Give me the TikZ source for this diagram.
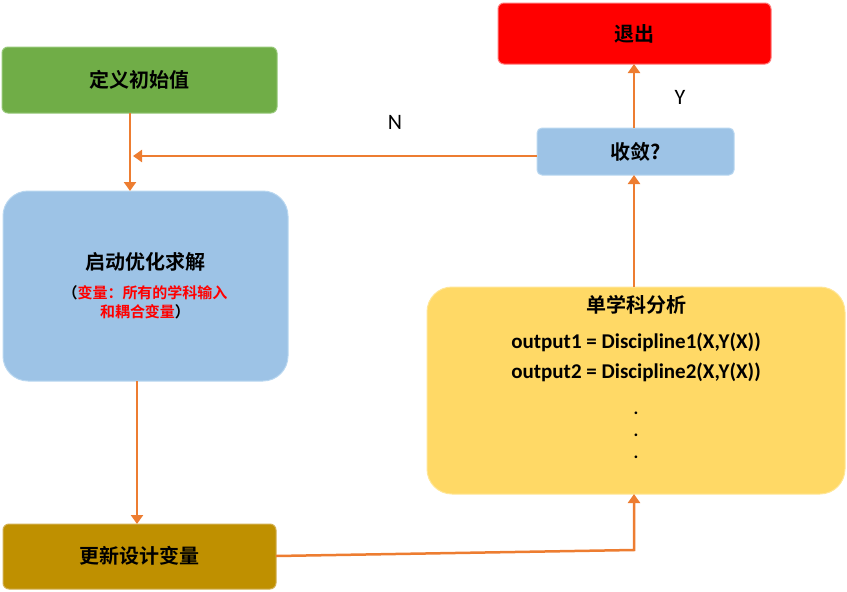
\documentclass[tikz,border=0pt]{standalone}
\usepackage{fontspec}
\setmainfont{Carlito}
\newfontfamily\cjk{Noto Sans CJK SC}[BoldFont={* Bold}]
\usetikzlibrary{arrows.meta}
\definecolor{org}{HTML}{ED7D31}
\tikzset{
 box/.style={draw=#1!60!white, line width=1.2pt, inner sep=0pt},
 arr/.style={draw=org, line width=2.5pt, -{Triangle[length=9pt,width=12pt]}},
 lbl/.style={font=\cjk\bfseries\fontsize{20}{24}\selectfont, align=center}
}
\begin{document}
\begin{tikzpicture}[x=1pt,y=-1pt]
\useasboundingbox (0,0) rectangle (847,592);
\filldraw[fill={rgb,255:red,112;green,173;blue,71}, draw={rgb,255:red,150;green,200;blue,120}, line width=1pt, rounded corners=6pt] (2,47) rectangle (277,113);
\node[lbl] (init) at (139.5,80) {定义初始值};
\coordinate (initS) at (130,113);
\filldraw[fill={rgb,255:red,157;green,195;blue,230}, draw={rgb,255:red,185;green,215;blue,240}, line width=1pt, rounded corners=25pt] (3,191) rectangle (288,381);
\node[lbl] (opt) at (145,262) {启动优化求解};
\node[font=\cjk\bfseries\fontsize{15}{19}\selectfont, align=center] (optv) at (145,302) {（\textcolor{red}{变量：所有的学科输入}\\\textcolor{red}{和耦合变量}）};
\coordinate (optN) at (130,191);
\coordinate (optS) at (137,381);
\filldraw[fill={rgb,255:red,191;green,144;blue,0}, draw={rgb,255:red,210;green,175;blue,80}, line width=1pt, rounded corners=6pt] (3,524) rectangle (276,589);
\node[lbl] (upd) at (139.5,556) {更新设计变量};
\coordinate (updN) at (137,524);
\coordinate (updE) at (276,556);
\filldraw[fill={rgb,255:red,255;green,217;blue,102}, draw={rgb,255:red,255;green,230;blue,150}, line width=1pt, rounded corners=25pt] (427,287) rectangle (845,494);
\node[lbl] (disc) at (636,305) {单学科分析};
\node[font=\bfseries\fontsize{21}{30}\selectfont, align=center] (out) at (636,357) {output1 = Discipline1(X,Y(X))\\output2 = Discipline2(X,Y(X))};
\node[font=\bfseries\fontsize{18}{22}\selectfont, align=center] (dots) at (636,435) {.\\.\\.};
\coordinate (discN) at (634,287);
\coordinate (discS) at (634,494);
\filldraw[fill={rgb,255:red,157;green,195;blue,230}, draw={rgb,255:red,185;green,215;blue,240}, line width=1pt, rounded corners=5pt] (537,128) rectangle (734,175);
\node[lbl] (conv) at (635.5,152) {收敛?};
\coordinate (convW) at (537,156);
\coordinate (convN) at (634,128);
\coordinate (convS) at (634,175);
\filldraw[fill=red, draw={rgb,255:red,255;green,120;blue,120}, line width=1pt, rounded corners=6pt] (498,3) rectangle (771,64);
\node[lbl] (exit) at (634.5,34) {退出};
\coordinate (exitS) at (634,64);
\coordinate (leftTgt) at (133,156);
\coordinate (bend) at (634,550);
\draw[arr] (initS) -- (optN);
\draw[arr] (convW) -- (leftTgt);
\draw[arr] (optS) -- (updN);
\draw[arr] (updE) -- (bend) -- (discS);
\draw[arr] (discN) -- (convS);
\draw[arr] (convN) -- (exitS);
\node[font=\fontsize{22}{26}\selectfont] (nl) at (395,122) {N};
\node[font=\fontsize{22}{26}\selectfont] (yl) at (680,97) {Y};
\end{tikzpicture}
\end{document}
